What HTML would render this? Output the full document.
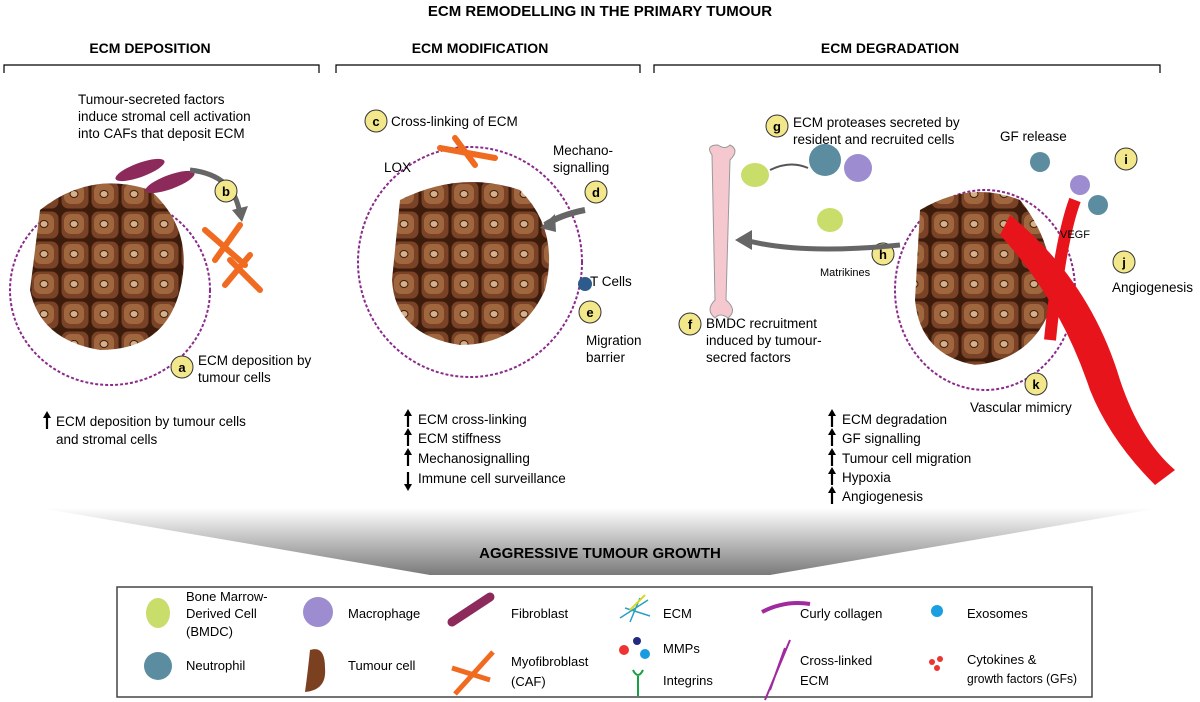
<!DOCTYPE html>
<html><head><meta charset="utf-8"><style>
body{margin:0;background:#fff;}
svg{display:block;font-family:"Liberation Sans",Arial,sans-serif;}
</style></head><body>
<svg width="1200" height="702" viewBox="0 0 1200 702" xmlns="http://www.w3.org/2000/svg">
<defs>
<pattern id="cells" width="30" height="30" patternUnits="userSpaceOnUse">
<rect width="30" height="30" fill="#3d1c0c"/>
<rect x="1.5" y="1.5" width="27" height="27" rx="7" fill="#7a4226"/>
<rect x="4" y="4" width="20" height="20" rx="7" fill="#a0673f"/>
<ellipse cx="14" cy="14" rx="4" ry="3.5" fill="#d6b08a" stroke="#3d1c0c"/>
</pattern>
<linearGradient id="fun" x1="0" y1="0" x2="0" y2="1">
<stop offset="0" stop-color="#fff"/><stop offset="1" stop-color="#7a7a7a"/></linearGradient>
</defs>
<text x="600" y="16" text-anchor="middle" font-size="15" font-weight="bold">ECM REMODELLING IN THE PRIMARY TUMOUR</text>
<g font-size="14" font-weight="bold" text-anchor="middle">
<text x="150" y="53">ECM DEPOSITION</text>
<text x="480" y="53">ECM MODIFICATION</text>
<text x="890" y="53">ECM DEGRADATION</text></g>
<g stroke="#000" stroke-width="1.2" fill="none">
<path d="M4 73V65H319V73"/><path d="M336 73V65H640V73"/><path d="M654 73V65H1160V73"/></g>

<g fill="none" stroke="#8a2a8a" stroke-width="2" stroke-dasharray="3 2">
<ellipse cx="110" cy="290" rx="100" ry="95"/>
<ellipse cx="470" cy="262" rx="112" ry="115"/>
<ellipse cx="985" cy="290" rx="90" ry="100"/></g>
<path d="M40 210 Q90 170 150 190 Q195 230 180 290 Q165 350 100 350 Q40 340 30 290 Z" fill="url(#cells)"/>
<path d="M400 200 Q460 170 520 190 Q560 230 545 290 Q520 345 460 345 Q395 335 392 280 Z" fill="url(#cells)"/>
<path d="M920 210 Q970 180 1020 200 Q1060 250 1050 310 Q1030 360 975 365 Q920 355 915 300 Z" fill="url(#cells)"/>
<path d="M1010 215 Q1090 280 1120 380 Q1140 440 1175 470 L1155 485 Q1110 440 1090 390 Q1060 300 1000 235 Z" fill="#e8141b"/>
<path d="M1050 340 Q1060 240 1075 200" stroke="#e8141b" stroke-width="12" fill="none"/>

<ellipse cx="140" cy="170" rx="26" ry="7" fill="#8c2b5b" transform="rotate(-20 140 170)"/>
<ellipse cx="170" cy="182" rx="26" ry="7" fill="#8c2b5b" transform="rotate(-20 170 182)"/>
<g stroke="#f06a20" stroke-width="6" stroke-linecap="round">
<path d="M205 230L245 265M215 260L240 225M230 260L260 290M225 285L250 255"/>
<path d="M440 148L495 158M455 138L475 165"/></g>
<path d="M190 170Q235 175 240 215" stroke="#666" stroke-width="5" fill="none"/>
<path d="M232 210L242 222L248 206Z" fill="#666"/>
<path d="M585 210Q560 215 545 225" stroke="#666" stroke-width="6" fill="none"/>
<path d="M540 228L555 214L556 232Z" fill="#666"/>

<g fill="#f3e78c" stroke="#333" stroke-width="1">
<circle cx="226" cy="191" r="11"/><circle cx="182" cy="367" r="11"/>
<circle cx="376" cy="121" r="11"/><circle cx="596" cy="192" r="11"/><circle cx="590" cy="312" r="11"/>
<circle cx="777" cy="126" r="11"/><circle cx="883" cy="254" r="11"/><circle cx="690" cy="324" r="11"/>
<circle cx="1126" cy="159" r="11"/><circle cx="1124" cy="262" r="11"/><circle cx="1036" cy="384" r="11"/></g>
<g font-size="13" font-weight="bold" text-anchor="middle">
<text x="226" y="196">b</text><text x="182" y="372">a</text><text x="376" y="126">c</text><text x="596" y="197">d</text><text x="590" y="317">e</text>
<text x="777" y="131">g</text><text x="883" y="259">h</text><text x="690" y="329">f</text><text x="1126" y="164">i</text><text x="1124" y="267">j</text><text x="1036" y="389">k</text></g>

<g font-size="13.5">
<text x="78" y="104">Tumour-secreted factors</text>
<text x="78" y="121">induce stromal cell activation</text>
<text x="78" y="138">into CAFs that deposit ECM</text>
<text x="198" y="365">ECM deposition by</text><text x="198" y="382">tumour cells</text>
<text x="391" y="126">Cross-linking of ECM</text>
<text x="384" y="172">LOX</text>
<text x="553" y="155">Mechano-</text><text x="553" y="172">signalling</text>
<text x="590" y="286">T Cells</text>
<text x="586" y="345">Migration</text><text x="586" y="362">barrier</text>
<text x="793" y="127">ECM proteases secreted by</text><text x="793" y="144">resident and recruited cells</text>
<text x="1000" y="141">GF release</text>
<text x="1060" y="238" font-size="11">VEGF</text>
<text x="1112" y="292">Angiogenesis</text>
<text x="820" y="276" font-size="11">Matrikines</text>
<text x="706" y="328">BMDC recruitment</text><text x="706" y="345">induced by tumour-</text><text x="706" y="362">secred factors</text>
<text x="970" y="412">Vascular mimicry</text>
<text x="56" y="426">ECM deposition by tumour cells</text><text x="56" y="444">and stromal cells</text>
<text x="418" y="424">ECM cross-linking</text><text x="418" y="443">ECM stiffness</text><text x="418" y="463">Mechanosignalling</text><text x="418" y="483">Immune cell surveillance</text>
<text x="842" y="424">ECM degradation</text><text x="842" y="443">GF signalling</text><text x="842" y="463">Tumour cell migration</text><text x="842" y="482">Hypoxia</text><text x="842" y="501">Angiogenesis</text></g>
<g stroke="#000" stroke-width="2.2">
<path d="M47 429V414"/><path d="M408 427V412"/><path d="M408 446V431"/><path d="M408 466V451"/><path d="M408 472V487"/>
<path d="M832 427V412"/><path d="M832 446V431"/><path d="M832 466V451"/><path d="M832 485V470"/><path d="M832 504V489"/></g>
<g fill="#000">
<path d="M43 418L47 411L51 418Z"/><path d="M404 416L408 409L412 416Z"/><path d="M404 435L408 428L412 435Z"/><path d="M404 455L408 448L412 455Z"/><path d="M404 484L408 491L412 484Z"/>
<path d="M828 416L832 409L836 416Z"/><path d="M828 435L832 428L836 435Z"/><path d="M828 455L832 448L836 455Z"/><path d="M828 474L832 467L836 474Z"/><path d="M828 493L832 486L836 493Z"/></g>

<path d="M712 155 Q705 145 718 145 Q725 150 730 145 Q740 150 730 160 L726 300 Q738 310 728 318 Q720 312 715 318 Q705 310 715 300 Z" fill="#f5c8d0" stroke="#999"/>
<ellipse cx="755" cy="175" rx="14" ry="12" fill="#c9dd6a"/><ellipse cx="830" cy="220" rx="13" ry="12" fill="#c9dd6a"/>
<circle cx="825" cy="160" r="16" fill="#5b8ca0"/><circle cx="858" cy="168" r="14" fill="#9d8ccf"/>
<circle cx="1040" cy="162" r="10" fill="#5b8ca0"/><circle cx="1098" cy="205" r="10" fill="#5b8ca0"/><circle cx="1080" cy="185" r="10" fill="#9d8ccf"/>
<circle cx="585" cy="284" r="7" fill="#2d5b8c"/>
<path d="M770 170Q790 160 808 168" stroke="#555" stroke-width="2" fill="none"/>
<path d="M900 245Q800 255 745 240" stroke="#666" stroke-width="5" fill="none"/><path d="M735 240L752 230L752 250Z" fill="#666"/>

<path d="M40 508 L1160 508 L770 575 L430 575 Z" fill="url(#fun)"/>
<text x="600" y="558" text-anchor="middle" font-size="15" font-weight="bold">AGGRESSIVE TUMOUR GROWTH</text>

<rect x="117" y="587" width="975" height="110" fill="#fff" stroke="#444" stroke-width="1.5"/>
<ellipse cx="158" cy="613" rx="12" ry="15" fill="#c9dd6a"/>
<circle cx="158" cy="666" r="14" fill="#5b8ca0"/>
<circle cx="318" cy="612" r="15" fill="#9d8ccf"/>
<path d="M310 650Q325 645 325 668Q327 690 305 692Q308 670 310 650Z" fill="#7a4020"/>
<path d="M452 622L490 597" stroke="#8c2b5b" stroke-width="9" stroke-linecap="round"/>
<path d="M455 694L493 652M452 668L490 680" stroke="#f06a20" stroke-width="5"/>
<path d="M620 618L648 600M630 622L640 598M625 608L650 616" stroke="#2aa0c0" stroke-width="1.5"/><path d="M630 610L645 595" stroke="#d8d820" stroke-width="2"/>
<circle cx="637" cy="641" r="4" fill="#222a80"/><circle cx="624" cy="650" r="5" fill="#e33"/><circle cx="645" cy="654" r="5" fill="#1a9ae0"/>
<path d="M638 696V676M633 670Q638 680 643 670" stroke="#18a040" stroke-width="2" fill="none"/>
<path d="M762 612Q785 600 810 604" stroke="#a02aa0" stroke-width="4" fill="none"/>
<path d="M765 700L790 640M770 690L785 648" stroke="#a02aa0" stroke-width="2"/>
<circle cx="937" cy="611" r="6" fill="#1aa0e0"/>
<circle cx="932" cy="662" r="3" fill="#e33"/><circle cx="940" cy="659" r="3" fill="#e33"/><circle cx="937" cy="668" r="3" fill="#e33"/>
<g font-size="13">
<text x="186" y="601">Bone Marrow-</text><text x="186" y="618">Derived Cell</text><text x="186" y="636">(BMDC)</text>
<text x="186" y="670">Neutrophil</text>
<text x="348" y="618">Macrophage</text><text x="348" y="670">Tumour cell</text>
<text x="511" y="618">Fibroblast</text><text x="511" y="666">Myofibroblast</text><text x="511" y="686">(CAF)</text>
<text x="663" y="618">ECM</text><text x="663" y="653">MMPs</text><text x="663" y="685">Integrins</text>
<text x="800" y="618">Curly collagen</text><text x="800" y="665">Cross-linked</text><text x="800" y="685">ECM</text>
<text x="967" y="618">Exosomes</text><text x="967" y="664">Cytokines &amp;</text><text x="967" y="683" textLength="110" lengthAdjust="spacingAndGlyphs">growth factors (GFs)</text></g>
</svg>
</body></html>
